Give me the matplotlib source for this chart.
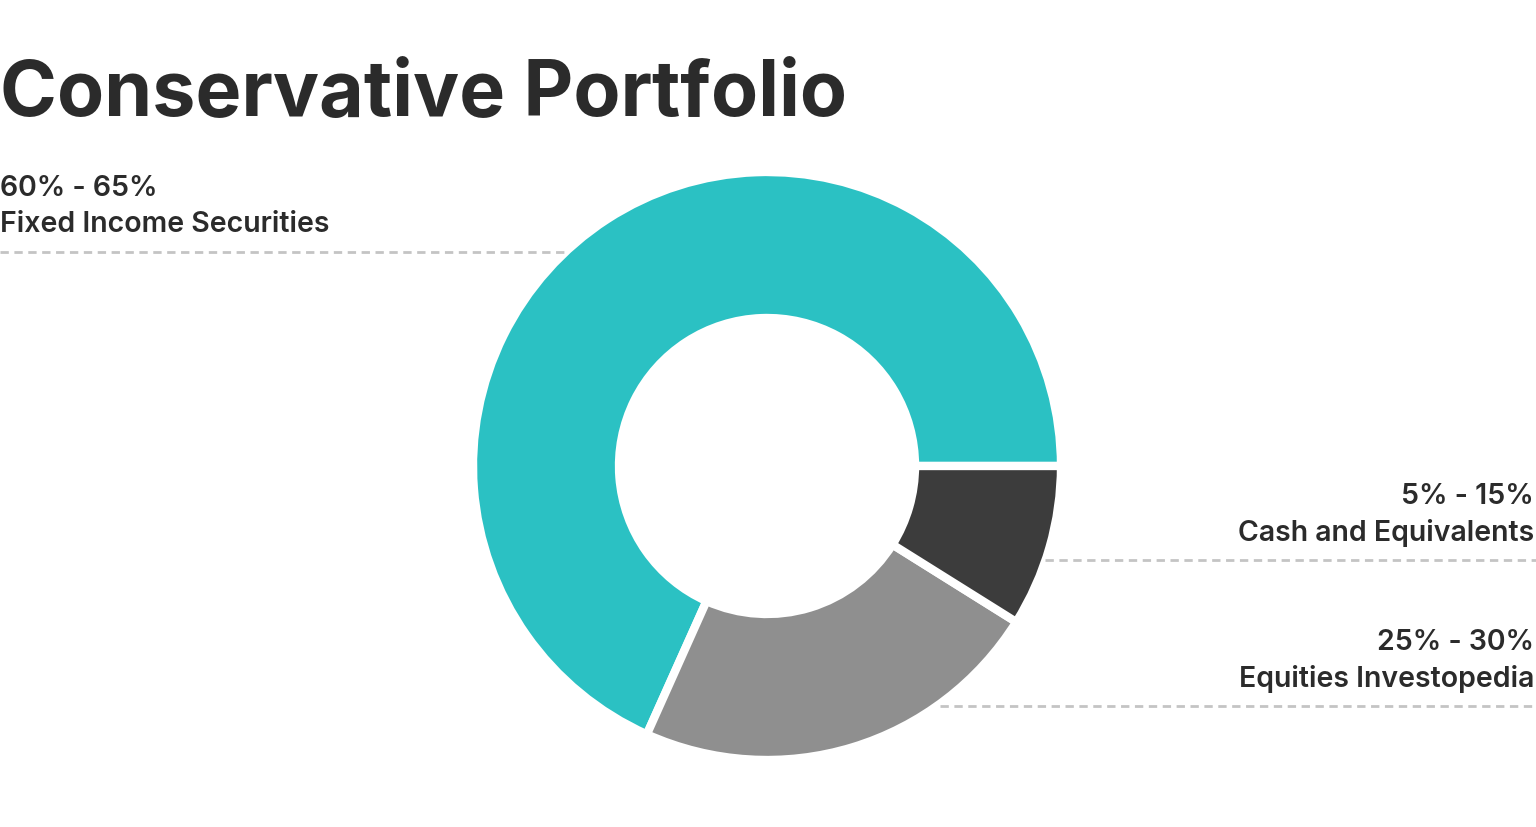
import matplotlib
matplotlib.use("Agg")
import matplotlib.pyplot as plt
from matplotlib.lines import Line2D

categories = ["Fixed Income Securities", "Equities Investopedia", "Cash and Equivalents"]
ranges = ["60% - 65%", "25% - 30%", "5% - 15%"]
shares = [68.3, 22.8, 8.9]
colors = ["#2BC1C3", "#8F8F8F", "#3C3C3C"]
txt = "#2B2B2B"

W, H = 1536, 828
fig = plt.figure(figsize=(W/100, H/100), dpi=100)
fig.patch.set_facecolor("white")
cx, cy, R = 767, 467, 294
ax = fig.add_axes([(cx-R)/W, (H-cy-R)/H, 2*R/W, 2*R/H])
ax.pie(shares, colors=colors, startangle=0, counterclock=True, radius=1.0,
       wedgeprops=dict(width=146/294, edgecolor="white", linewidth=6, joinstyle="round"))
ax.set_aspect("equal")
ax.set_xlim(-1.0, 1.0); ax.set_ylim(-1.0, 1.0)
ax.axis("off")

ff = ["Inter", "DejaVu Sans"]
def fx(x): return x/W
def fy(y): return 1 - y/H

fig.text(fx(0), fy(95), "Conservative Portfolio", fontsize=55.5, fontweight="bold",
         color=txt, family=ff, va="center", ha="left")

def label(x, y1, y2, ha, r, c):
    for y, s in [(y1, r), (y2, c)]:
        t = fig.text(fx(x), fy(y), s, fontsize=20.5, fontweight="semibold", color=txt,
                     family=ff, va="center", ha=ha)

label(0, 189, 225, "left", ranges[0], categories[0])
label(1534, 497, 533, "right", ranges[2], categories[2])
label(1534, 643, 679, "right", ranges[1], categories[1])

for (x0, x1, y) in [(0, 565, 253), (1045, 1536, 561), (940, 1536, 707)]:
    fig.add_artist(Line2D([fx(x0), fx(x1)], [fy(y), fy(y)], color="#C4C4C4",
                          linewidth=2, linestyle=(0, (3, 2))))

fig.savefig("out.png", dpi=100, facecolor="white")
